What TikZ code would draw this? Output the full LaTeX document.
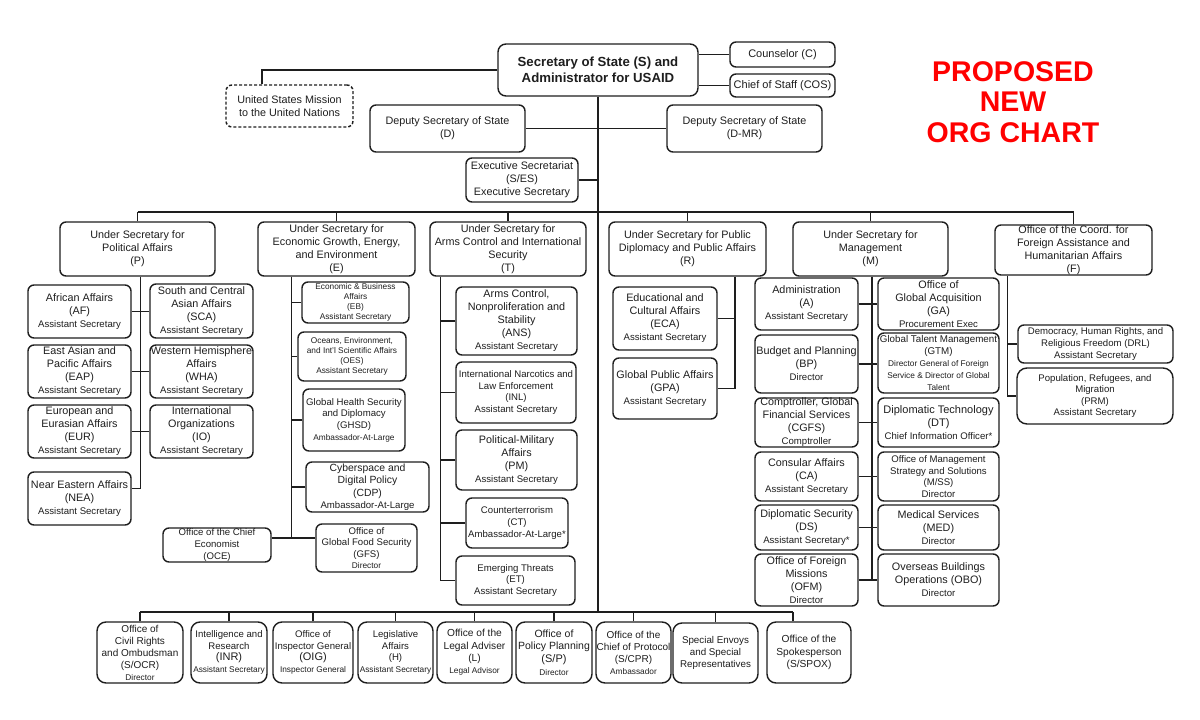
\documentclass[tikz,border=0pt]{standalone}
\usepackage{fontspec}
\setmainfont{Liberation Sans}
\definecolor{ink}{HTML}{1E1E1E}
\newcommand\fA{\fontsize{10.8}{13}\selectfont}
\newcommand\fL{\fontsize{11}{13.2}\selectfont}
\newcommand\fB{\fontsize{9.6}{11.6}\selectfont}
\newcommand\fC{\fontsize{8.3}{10.2}\selectfont}
\newcommand\fX[1]{\fontsize{#1}{\dimexpr #1pt*6/5\relax}\selectfont}
\tikzset{
  box/.style={draw=ink, line width=1.4pt, rounded corners=6pt, align=center,
    inner sep=0pt, text=ink, font=\fA},
  conn/.style={draw=ink, line width=1.4pt}
}
\newcommand\bx[7][]{\node[box,#1,minimum width={(#5-#3)*1pt},minimum height={(#6-#4)*1pt}] (#2) at ({(#3+#5)/2},{(#4+#6)/2}) {#7};}
\begin{document}
\begin{tikzpicture}[x=1pt,y=-1pt]
\fill[white] (0,0) rectangle (1200,720);
\useasboundingbox (0,0) rectangle (1200,720);

% top
\bx[font=\fontsize{13.2}{16.5}\selectfont\bfseries, rounded corners=8pt]{S}{498}{44}{698}{96}{Secretary of State (S) and\\Administrator for USAID}
\bx[font=\fL]{C}{730}{42}{835}{67}{Counselor (C)}
\bx[font=\fL]{COS}{730}{74}{835}{97}{Chief of Staff (COS)}
\bx[dash pattern=on 3pt off 2pt]{UN}{226}{85}{353}{127}{United States Mission\\to the United Nations}
\bx{D}{370}{105}{525}{152}{Deputy Secretary of State\\(D)}
\bx{DMR}{667}{105}{822}{152}{Deputy Secretary of State\\(D-MR)}
\bx{ES}{466}{158}{578}{202}{Executive Secretariat\\(S/ES)\\Executive Secretary}

\node[font=\fontsize{28.5}{30.6}\selectfont\bfseries, text=red, align=center, inner sep=0pt] (title) at (1013,102) {PROPOSED\\NEW\\ORG CHART};

% under secretaries
\bx{P}{60}{222}{215}{276}{Under Secretary for\\Political Affairs\\(P)}
\bx{E}{258}{222}{415}{276}{Under Secretary for\\Economic Growth, Energy,\\and Environment\\(E)}
\bx{T}{430}{222}{586}{276}{Under Secretary for\\Arms Control and International\\Security\\(T)}
\bx{R}{609}{222}{766}{276}{Under Secretary for Public\\Diplomacy and Public Affairs\\(R)}
\bx{M}{793}{222}{948}{276}{Under Secretary for\\Management\\(M)}
\bx{F}{995}{225}{1152}{275}{Office of the Coord. for\\Foreign Assistance and\\Humanitarian Affairs\\(F)}

% P children
\bx{AF}{28}{285}{131}{338}{African Affairs\\(AF)\\{\fB Assistant Secretary}}
\bx{SCA}{150}{284}{253}{338}{South and Central\\Asian Affairs\\(SCA)\\{\fB Assistant Secretary}}
\bx{EAP}{28}{345}{131}{398}{East Asian and\\Pacific Affairs\\(EAP)\\{\fB Assistant Secretary}}
\bx{WHA}{150}{345}{253}{398}{Western Hemisphere\\Affairs\\(WHA)\\{\fB Assistant Secretary}}
\bx{EUR}{28}{405}{131}{458}{European and\\Eurasian Affairs\\(EUR)\\{\fB Assistant Secretary}}
\bx{IO}{150}{405}{253}{458}{International\\Organizations\\(IO)\\{\fB Assistant Secretary}}
\bx{NEA}{28}{472}{131}{525}{Near Eastern Affairs\\(NEA)\\{\fB Assistant Secretary}}

% E children
\bx[font=\fC]{EB}{302}{282}{409}{323}{Economic \& Business\\Affairs\\(EB)\\Assistant Secretary}
\bx[font=\fC]{OES}{298}{332}{406}{381}{Oceans, Environment,\\and Int'l Scientific Affairs\\(OES)\\Assistant Secretary}
\bx[font=\fB]{GHSD}{303}{389}{405}{451}{Global Health Security\\and Diplomacy\\(GHSD)\\{\fC Ambassador-At-Large}}
\bx[font=\fX{10.4}]{CDP}{306}{462}{429}{512}{Cyberspace and\\Digital Policy\\(CDP)\\{\fB Ambassador-At-Large}}
\bx[font=\fB]{GFS}{316}{524}{417}{572}{Office of\\Global Food Security\\(GFS)\\{\fC Director}}
\bx[font=\fB]{OCE}{163}{528}{271}{562}{Office of the Chief\\Economist\\(OCE)}

% T children
\bx{ANS}{456}{287}{577}{355}{Arms Control,\\Nonproliferation and\\Stability\\(ANS)\\{\fB Assistant Secretary}}
\bx[font=\fB]{INL}{456}{362}{576}{423}{International Narcotics and\\Law Enforcement\\(INL)\\Assistant Secretary}
\bx{PM}{456}{430}{577}{490}{Political-Military\\Affairs\\(PM)\\{\fB Assistant Secretary}}
\bx[font=\fB]{CT}{466}{498}{568}{548}{Counterterrorism\\(CT)\\Ambassador-At-Large*}
\bx[font=\fB]{ET}{456}{556}{575}{605}{Emerging Threats\\(ET)\\Assistant Secretary}

% R children
\bx{ECA}{613}{287}{717}{350}{Educational and\\Cultural Affairs\\(ECA)\\{\fB Assistant Secretary}}
\bx{GPA}{613}{358}{717}{419}{Global Public Affairs\\(GPA)\\{\fB Assistant Secretary}}

% M children
\bx{A}{755}{278}{858}{330}{Administration\\(A)\\{\fB Assistant Secretary}}
\bx{GA}{878}{278}{999}{330}{Office of\\Global Acquisition\\(GA)\\{\fB Procurement Exec}}
\bx{BP}{755}{335}{858}{393}{Budget and Planning\\(BP)\\{\fB Director}}
\bx[font=\fX{9.8}]{GTM}{878}{333}{999}{393}{Global Talent Management\\(GTM)\\{\fC Director General of Foreign}\\{\fC Service \& Director of Global}\\{\fC Talent}}
\bx{CGFS}{755}{398}{858}{447}{Comptroller, Global\\Financial Services\\(CGFS)\\{\fB Comptroller}}
\bx[font=\fL]{DT}{878}{398}{999}{447}{Diplomatic Technology\\(DT)\\{\fB Chief Information Officer*}}
\bx{CA}{755}{452}{858}{501}{Consular Affairs\\(CA)\\{\fB Assistant Secretary}}
\bx[font=\fB]{MSS}{878}{452}{999}{501}{Office of Management\\Strategy and Solutions\\(M/SS)\\Director}
\bx{DS}{755}{505}{858}{550}{Diplomatic Security\\(DS)\\{\fB Assistant Secretary*}}
\bx{MED}{878}{505}{999}{550}{Medical Services\\(MED)\\{\fB Director}}
\bx{OFM}{755}{554}{858}{606}{Office of Foreign\\Missions\\(OFM)\\{\fB Director}}
\bx{OBO}{878}{554}{999}{606}{Overseas Buildings\\Operations (OBO)\\{\fB Director}}

% F children
\bx[font=\fB]{DRL}{1018}{325}{1173}{363}{Democracy, Human Rights, and\\Religious Freedom (DRL)\\Assistant Secretary}
\bx[font=\fB, rounded corners=10pt]{PRM}{1017}{368}{1173}{424}{Population, Refugees, and\\Migration\\(PRM)\\Assistant Secretary}

% bottom row
\bx[font=\fX{10}, rounded corners=9pt]{OCR}{97}{622}{183}{683}{Office of\\Civil Rights\\and Ombudsman\\(S/OCR)\\{\fC Director}}
\bx[font=\fB, rounded corners=9pt]{INR}{191}{622}{267}{683}{Intelligence and\\Research\\{\fL (INR)}\\{\fC Assistant Secretary}}
\bx[font=\fB, rounded corners=9pt]{OIG}{273}{622}{353}{683}{Office of\\Inspector General\\{\fL (OIG)}\\{\fC Inspector General}}
\bx[font=\fB, rounded corners=9pt]{H}{358}{622}{433}{683}{Legislative\\Affairs\\(H)\\{\fC Assistant Secretary}}
\bx[font=\fX{10.2}, rounded corners=9pt]{L}{437}{622}{512}{683}{Office of the\\Legal Adviser\\(L)\\{\fC Legal Advisor}}
\bx[font=\fX{10.5}, rounded corners=9pt]{SP}{516}{622}{592}{683}{Office of\\Policy Planning\\{\fL (S/P)}\\{\fC Director}}
\bx[font=\fX{10}, rounded corners=9pt]{CPR}{596}{622}{671}{683}{Office of the\\Chief of Protocol\\(S/CPR)\\{\fC Ambassador}}
\bx[font=\fX{9.8}, rounded corners=9pt]{ENV}{673}{623}{758}{683}{Special Envoys\\and Special\\Representatives}
\bx[font=\fX{10.2}, rounded corners=9pt]{SPOX}{767}{622}{851}{683}{Office of the\\Spokesperson\\(S/SPOX)}

% ---- connectors ----
\coordinate (bb) at (598,612);
\coordinate (ub) at (598,212);
\draw[conn] (S.south) -- (bb);
\draw[conn] (C.west) -- (C.west -| S.east);
\draw[conn] (COS.west) -- (COS.west -| S.east);
\draw[conn] (S.west) -| ([xshift=-27.5pt]UN.north);
\draw[conn] (D.east) -- (DMR.west);
\draw[conn] (ES.east) -- (ES.east -| S.south);

% under secretary bar
\draw[conn] (P.north |- ub) -- (F.north |- ub);
\foreach \n in {P,E,T,R,M,F} \draw[conn] (\n.north) -- (\n.north |- ub);

% P
\coordinate (pv) at ([xshift=3pt]P.south);
\draw[conn] (pv) |- ([yshift=10pt]NEA.east);
\draw[conn] (AF.east) -- (AF.east -| SCA.west);
\draw[conn] (EAP.east) -- (EAP.east -| WHA.west);
\draw[conn] (EUR.east) -- (EUR.east -| IO.west);

% E
\coordinate (ev) at ([xshift=-45pt]E.south);
\draw[conn] (ev) |- ([yshift=7pt]OCE.east);
\draw[conn] ([yshift=7pt]OCE.east -| ev) -- ([yshift=7pt]OCE.east -| GFS.west);
\foreach \n in {EB,OES,GHSD,CDP} \draw[conn] (\n.west) -- (\n.west -| ev);

% T
\coordinate (tv) at ([xshift=-67.5pt]T.south);
\draw[conn] (tv) |- (ET.west);
\foreach \n in {ANS,INL,PM,CT} \draw[conn] (\n.west) -- (\n.west -| tv);

% R
\coordinate (rv) at ([xshift=47.5pt]R.south);
\draw[conn] (rv) |- (GPA.east);
\draw[conn] (ECA.east) -- (ECA.east -| rv);

% M
\coordinate (mv) at ([xshift=1.5pt]M.south);
\draw[conn] (mv) -- (mv |- OFM.east);
\draw[conn] (A.east) -- (A.east -| GA.west);
\draw[conn] (BP.east) -- (BP.east -| GTM.west);
\draw[conn] (CGFS.east) -- (CGFS.east -| DT.west);
\draw[conn] (CA.east) -- (CA.east -| MSS.west);
\draw[conn] (DS.east) -- (DS.east -| MED.west);
\draw[conn] (OFM.east) -- (OFM.east -| OBO.west);

% F
\coordinate (fv) at ([xshift=-66pt]F.south);
\draw[conn] (fv) |- (PRM.west);
\draw[conn] (DRL.west) -- (DRL.west -| fv);

% bottom bar
\draw[conn] (OCR.north |- bb) -- ([xshift=-16pt]SPOX.north |- bb);
\foreach \n in {OCR,INR,OIG,H,L,SP,CPR,ENV} \draw[conn] (\n.north) -- (\n.north |- bb);
\draw[conn] ([xshift=-16pt]SPOX.north) -- ([xshift=-16pt]SPOX.north |- bb);
\end{tikzpicture}
\end{document}
